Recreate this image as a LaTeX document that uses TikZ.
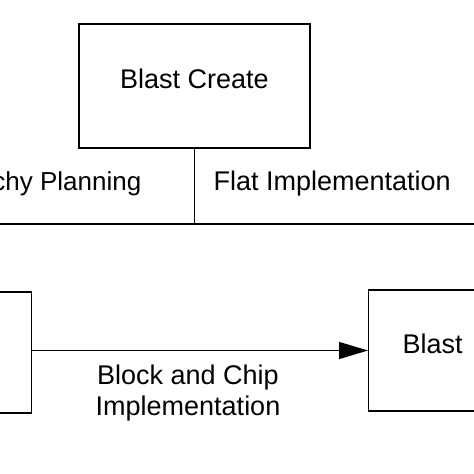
\documentclass[tikz,border=0pt]{standalone}
\usepackage{fontspec}
\setmainfont{Liberation Sans}
\usetikzlibrary{arrows.meta,positioning}

\begin{document}
\begin{tikzpicture}[x=1pt,y=-1pt,>={Triangle[length=29pt,width=17pt]},
  line width=1.4pt,
  block node/.style={rectangle,draw,fill=white,text depth=14pt,font=\fontsize{27}{31}\selectfont},
  text node/.style={inner sep=0pt,font=\fontsize{27}{31}\selectfont,align=center}]
  \useasboundingbox (0,0) rectangle (474,474);
  \node[block node,minimum width=231pt,minimum height=124pt] (create) at (194.5,86) {Blast Create};
  \node[block node,minimum width=150pt,minimum height=121pt,anchor=east] (block) at (32,352.5) {};
  \node[block node,minimum height=121pt,anchor=west,text width=150pt,inner xsep=34pt,align=left] (blast) at (368,350.5) {Blast};
  \coordinate (split) at (194.5,224);
  \coordinate (lend) at (-10,224);
  \coordinate (rend) at (484,224);
  \node[text node,anchor=east,font=\fontsize{26}{31}\selectfont] (hier) at (142,184) {chy Planning};
  \node[text node,anchor=west] (flat) at (213,184) {Flat Implementation};
  \node[text node] (chip) at (188,393) {Block and Chip\\Implementation};

  \draw (create) -- (split);
  \draw (lend) -- (rend);
  \draw[->] (block.east |- blast.west) -- (blast.west);
\end{tikzpicture}
\end{document}
